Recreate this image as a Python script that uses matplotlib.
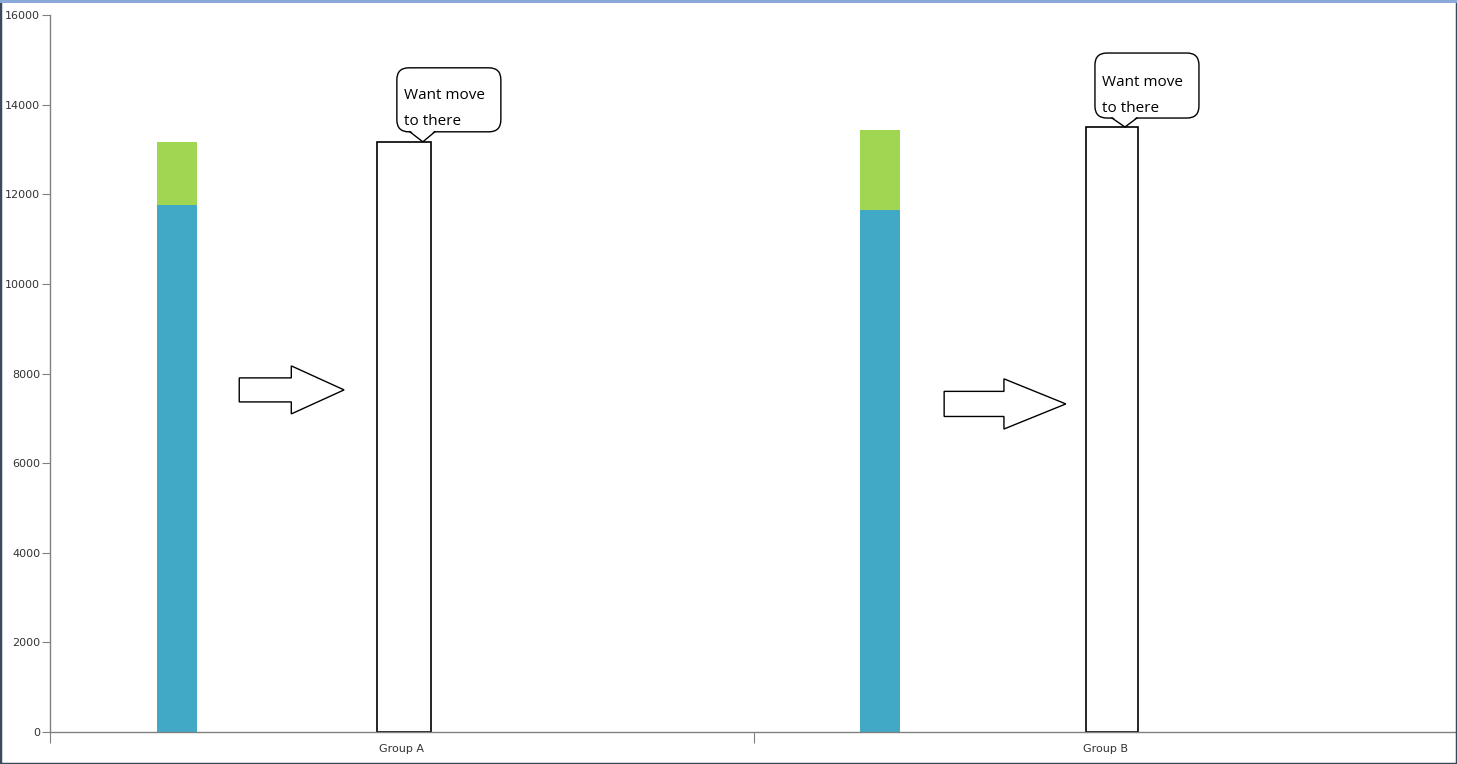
import numpy as np
import matplotlib.pyplot as plt
import matplotlib.transforms as mtransforms
from matplotlib.patches import FancyArrow, FancyBboxPatch, Polygon, Rectangle

# dados
groups = ['Group A', 'Group B']
blue_vals = [11750, 11650]
green_vals = [1420, 1790]
target_vals = [13170, 13500]
note_text = 'Want move\nto there'

BLUE = '#41a8c6'
GREEN = '#a0d652'
AXIS = '#808080'

fig = plt.figure(figsize=(14.57, 7.64), dpi=100)
ax = fig.add_axes([50 / 1457, 32 / 764, 1407 / 1457, 717 / 764])

x = np.arange(len(groups))
stack_x = x - 0.32
target_x = x + np.array([0.003, 0.01])

ax.bar(stack_x, blue_vals, width=0.057, color=BLUE, zorder=2)
ax.bar(stack_x, green_vals, bottom=blue_vals, width=0.057, color=GREEN, zorder=2)
ax.bar(target_x, target_vals, width=[0.077, 0.074], color='white',
       edgecolor='black', linewidth=1.2, zorder=2)

# setas entre as barras
arrows = [(-0.231, 7634, 0.149, 0.075, 268, 536),
          (0.771, 7321, 0.173, 0.088, 280, 560)]
for ax0, ay, length, head_len, half_w, half_head in arrows:
    ax.add_patch(FancyArrow(ax0, ay, length, 0, width=2 * half_w,
                            head_width=2 * half_head, head_length=head_len,
                            length_includes_head=True, facecolor='white',
                            edgecolor='black', linewidth=1.0, zorder=3))

# balões de texto, em pixels relativos ao topo da barra
tips = [0.027, 0.018]
# (esq, dir, baixo, cima) da caixa, base da ponta, posição do texto
boxes = [(-26, 78, 10, 74, (-13, 12), (-19, 33)),
         (-30, 74, 9, 74, (-13, 12), (-23, 31.5))]
for tx, tv, tip, (l, r, b, t, (t0, t1), (txo, tyo)) in zip(
        target_x, target_vals, tips, boxes):
    tr = mtransforms.Affine2D() + mtransforms.ScaledTranslation(
        tx + tip, tv, ax.transData)
    ax.add_patch(FancyBboxPatch((l, b), r - l, t - b,
                                boxstyle='round,pad=0,rounding_size=12',
                                facecolor='white', edgecolor='black',
                                linewidth=1.0, transform=tr, clip_on=False,
                                zorder=4))
    ax.add_patch(Polygon([(t0, b + 1.5), (0, 0), (t1, b + 1.5)], closed=True,
                         facecolor='white', edgecolor='none', transform=tr,
                         clip_on=False, zorder=5))
    ax.plot([t0, 0, t1], [b, 0, b], color='black', lw=1.0, transform=tr,
            clip_on=False, zorder=6)
    ax.annotate(note_text, xy=(tx + tip, tv), xycoords='data',
                xytext=(txo * 0.72, tyo * 0.72), textcoords='offset points',
                ha='left', va='center', fontsize=11, family='Open Sans',
                linespacing=2.0, color='black', zorder=7)

ax.set_xlim(-0.5, 1.5)
ax.set_ylim(0, 16000)
ax.set_yticks(np.arange(0, 16001, 2000))
ax.set_xticks([-0.5, 0.5, 1.5])
ax.set_xticklabels([])
ax.set_xticks(x, minor=True)
ax.set_xticklabels(groups, minor=True)
ax.tick_params(axis='x', which='minor', length=0, pad=9)
ax.tick_params(axis='x', which='major', length=8, color=AXIS)
ax.tick_params(axis='y', length=6, color=AXIS, pad=1)
ax.tick_params(which='both', labelsize=8, labelcolor='#333333')

for side in ['top', 'right']:
    ax.spines[side].set_visible(False)
for side in ['left', 'bottom']:
    ax.spines[side].set_color(AXIS)
    ax.spines[side].set_linewidth(1.0)

# moldura da janela
fig.patches.append(Rectangle((0, 0), 1, 1, transform=fig.transFigure,
                             fill=False, edgecolor='#3a4a5c', linewidth=2.5))
fig.patches.append(Rectangle((0, 0.996), 1, 0.004, transform=fig.transFigure,
                             facecolor='#8aa8d8', edgecolor='none'))

plt.savefig('out.png', dpi=100)
